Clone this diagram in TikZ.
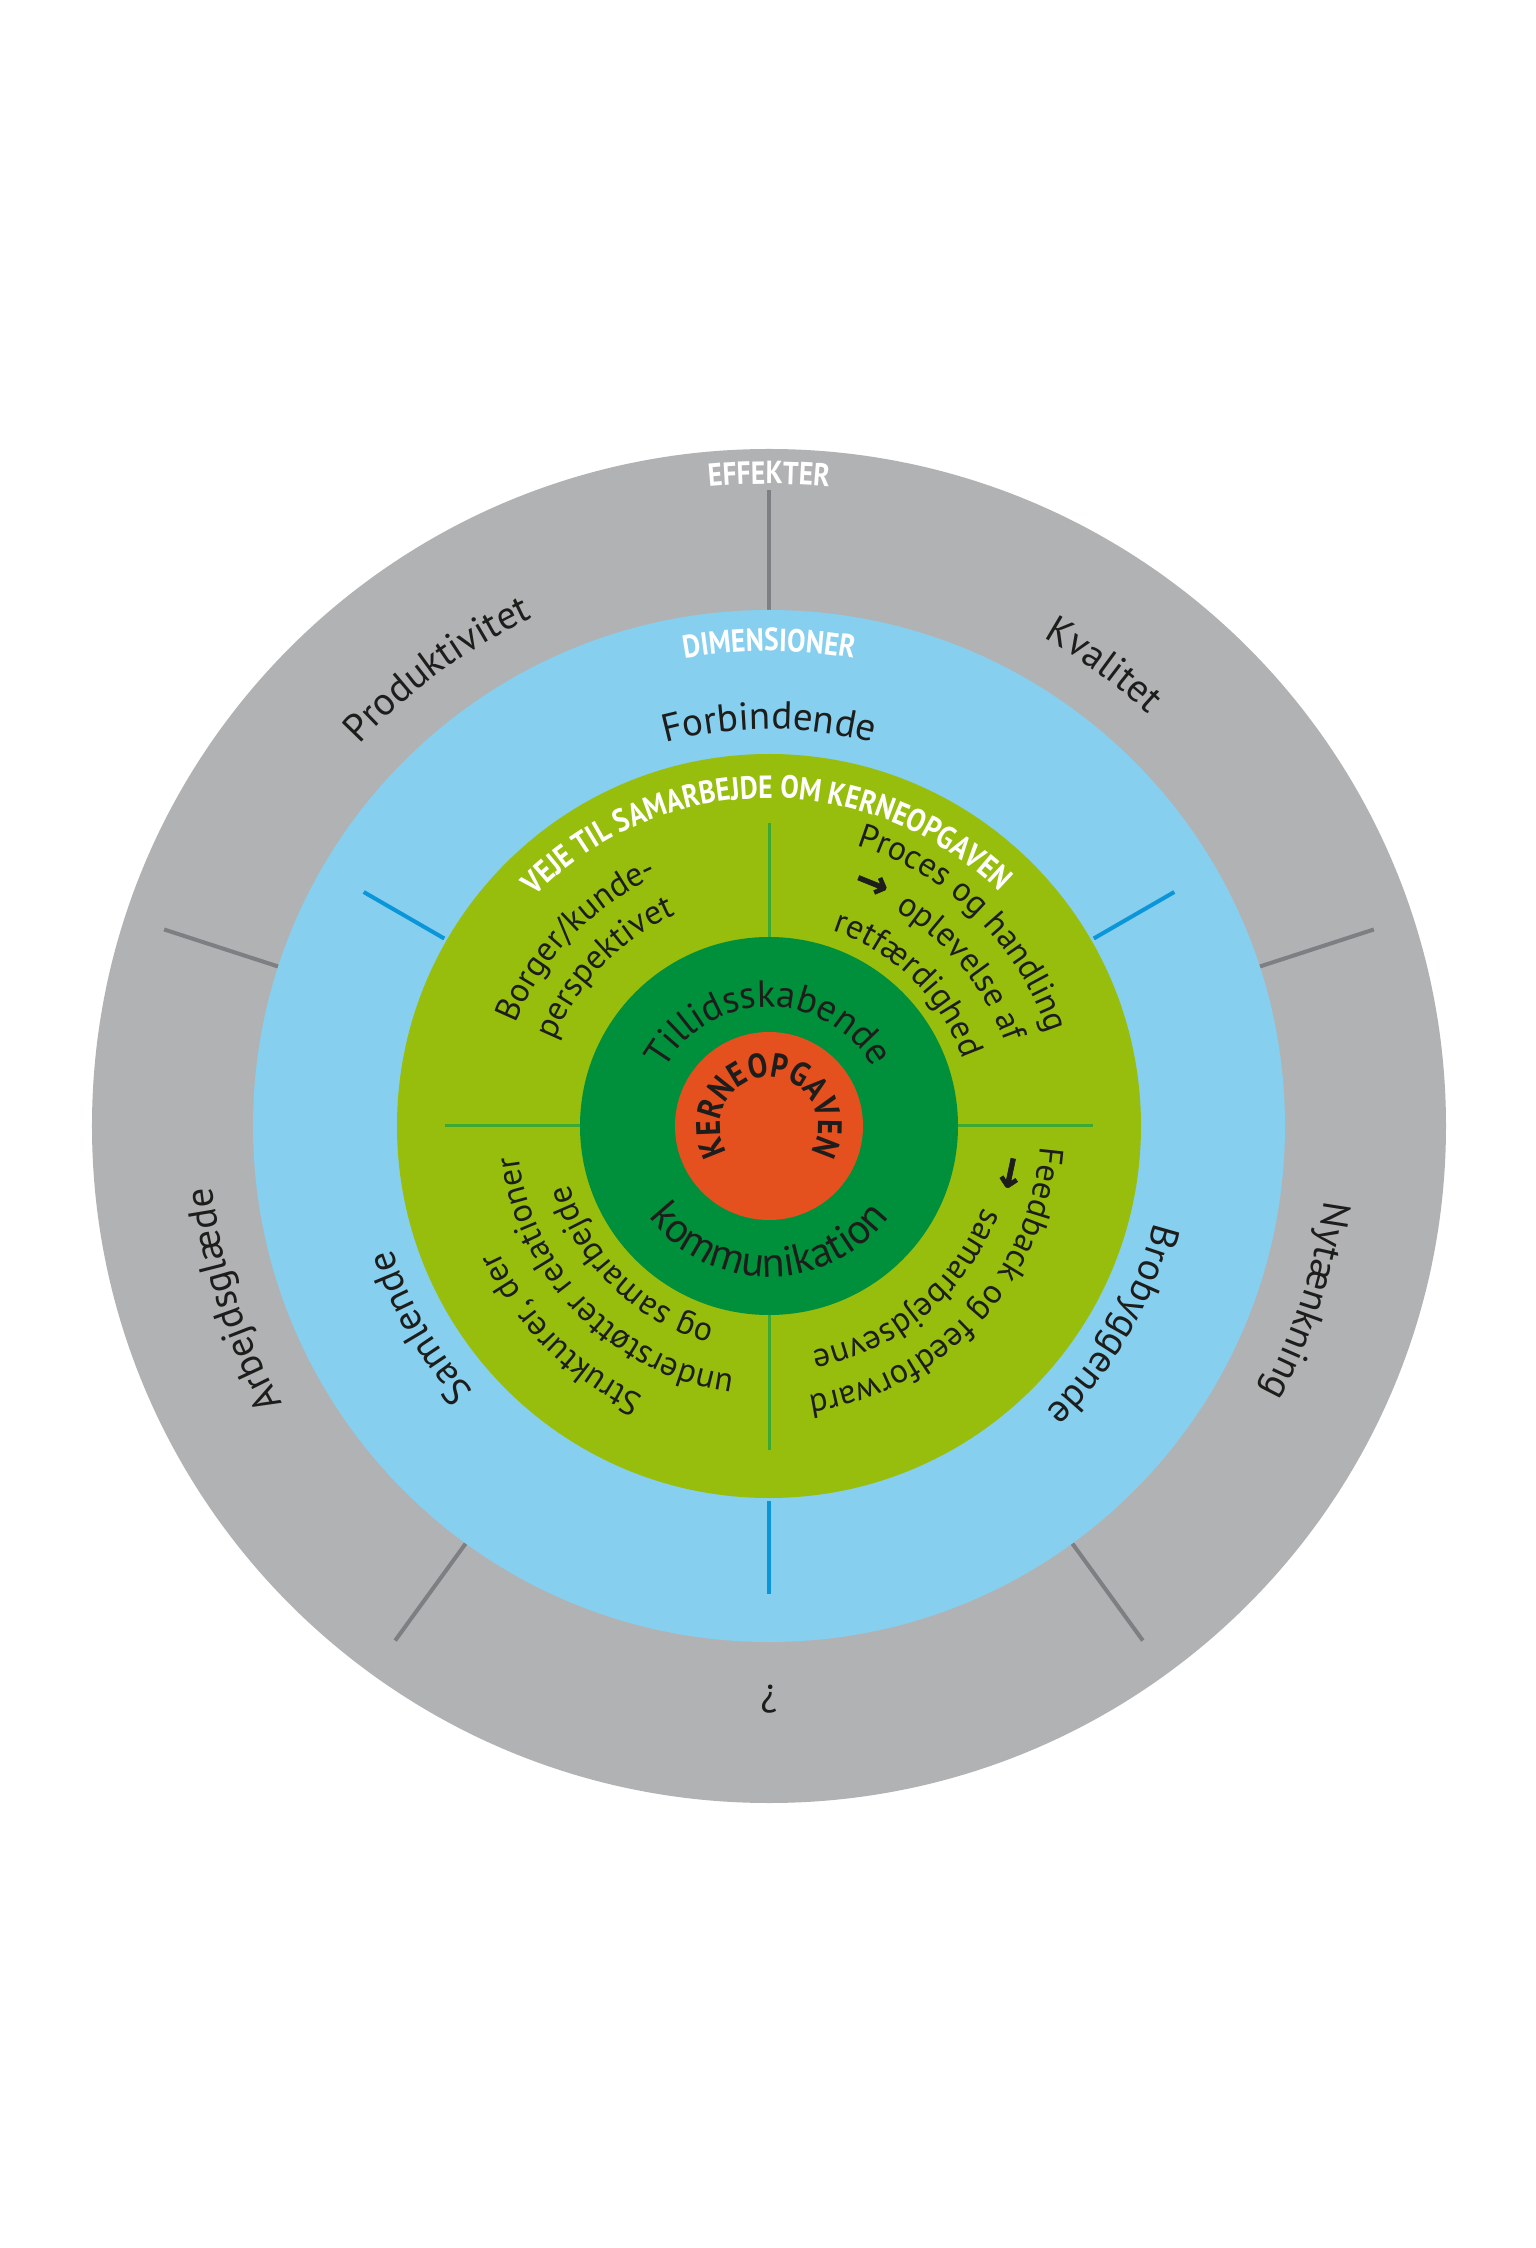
\documentclass[tikz,border=0pt]{standalone}
\usepackage{fontspec}
\setmainfont{PT Sans}
\newfontfamily\capsfam[FakeStretch=0.86]{PT Sans}
\newfontfamily\arrowfam[FakeBold=1.5]{DejaVu Sans}
\usetikzlibrary{decorations.text}
\definecolor{ringgrey}{HTML}{B1B2B4}
\definecolor{greyline}{HTML}{7E7F82}
\definecolor{ringblue}{HTML}{87CFEF}
\definecolor{blueline}{HTML}{0A96D8}
\definecolor{ringlgreen}{HTML}{97BE0D}
\definecolor{greenline}{HTML}{3DA935}
\definecolor{ringdgreen}{HTML}{00903B}
\definecolor{coreorange}{HTML}{E5501F}
\definecolor{ink}{HTML}{1D1D1B}
\newcommand\fOuter{\fontsize{39}{43}\selectfont}
\newcommand\fQuad{\fontsize{34}{38}\selectfont}
\newcommand\fTil{\fontsize{38}{42}\selectfont}
\newcommand\fKom{\fontsize{42}{46}\selectfont}
\newcommand\fCaps{\capsfam\bfseries\fontsize{32}{36}\selectfont}
\newcommand\fCapsB{\capsfam\bfseries\fontsize{32}{36}\selectfont}
\newcommand\fCore{\capsfam\bfseries\fontsize{34}{38}\selectfont}
% clockwise text, tops outward: [opts]{radius}{centre angle}{half span}{format}{text}
\newcommand\cwtext[6][]{%
  \path[decorate,decoration={text along path,text align=center,text color=ink,#1,text={|#5|#6}}]
    ({#3+#4}:#2) arc[start angle={#3+#4},end angle={#3-#4},radius=#2];}
% counter-clockwise text, tops inward
\newcommand\ccwtext[6][]{%
  \path[decorate,decoration={text along path,text align=center,text color=ink,#1,text={|#5|#6}}]
    ({#3-#4}:#2) arc[start angle={#3-#4},end angle={#3+#4},radius=#2];}
\begin{document}
\begin{tikzpicture}[x=1pt,y=1pt,
  greydiv/.style={draw=greyline,line width=4},
  bluediv/.style={draw=blueline,line width=4},
  greendiv/.style={draw=greenline,line width=3},
  arrowglyph/.style={font=\arrowfam\bfseries\fontsize{40}{44}\selectfont,text=ink,inner sep=0}]
\useasboundingbox (-769,-1122) rectangle (767,1126);
\fill[white] (-769,-1122) rectangle (767,1126);
% rings
\fill[ringgrey] (0,0) circle[radius=677];
\foreach \a in {90,162,234,306,18} \draw[greydiv] (\a:516) -- (\a:636);
\fill[ringblue] (0,0) circle[radius=516];
\foreach \a in {30,150,270} \draw[bluediv] (\a:375) -- (\a:468);
\fill[ringlgreen] (0,0) circle[radius=372];
\foreach \a in {0,180,270} \draw[greendiv] (\a:189) -- (\a:324);
\draw[greendiv] (90:189) -- (90:303);
\fill[ringdgreen] (0,0) circle[radius=189];
\fill[coreorange] (0,0) circle[radius=94];
% outer ring: effects
\cwtext[text color=white]{642}{90}{40}{\fCaps}{EFFEKTER}
\cwtext{560}{126}{40}{\fOuter}{Produktivitet}
\cwtext{560}{54}{40}{\fOuter}{Kvalitet}
\cwtext{560}{-18}{40}{\fOuter}{Nytænkning}
\cwtext{560}{270}{40}{\fOuter}{?}
\cwtext{560}{198}{40}{\fOuter}{Arbejdsglæde}
% blue ring: dimensions
\cwtext[text color=white]{475}{90}{45}{\fCaps}{DIMENSIONER}
\cwtext{397}{90}{45}{\fOuter}{Forbindende}
\cwtext{397}{210}{45}{\fOuter}{Samlende}
\cwtext{397}{330}{45}{\fOuter}{Brobyggende}
% light green ring
\cwtext[text color=white]{328}{90.5}{75}{\fCapsB}{VEJE TIL SAMARBEJDE OM KERNEOPGAVEN}
\cwtext{273}{136}{50}{\fQuad}{Borger/kunde-}
\cwtext{231}{136}{50}{\fQuad}{perspektivet}
\cwtext{294}{45.5}{50}{\fQuad}{Proces og handling}
\cwtext{250}{39.5}{50}{\fQuad}{oplevelse af}
\cwtext{205}{45.5}{60}{\fQuad}{retfærdighed}
\node[arrowglyph,rotate=-22] (arrowA) at (67:262) {→};
\cwtext{272}{-43}{60}{\fQuad}{Feedback og feedforward}
\cwtext{229}{-50}{60}{\fQuad}{samarbejdsevne}
\node[arrowglyph,rotate=-102] (arrowB) at (-11:244) {→};
\cwtext{298}{225}{50}{\fQuad}{Strukturer, der}
\cwtext{252}{224.5}{60}{\fQuad}{understøtter relationer}
\cwtext{208}{225.5}{60}{\fQuad}{og samarbejde}
% dark green ring
\cwtext{119}{90.5}{110}{\fTil}{Tillidsskabende}
\ccwtext{151}{270}{85}{\fKom}{kommunikation}
% core
\cwtext{49}{90}{150}{\fCore}{KERNEOPGAVEN}
\end{tikzpicture}
\end{document}
